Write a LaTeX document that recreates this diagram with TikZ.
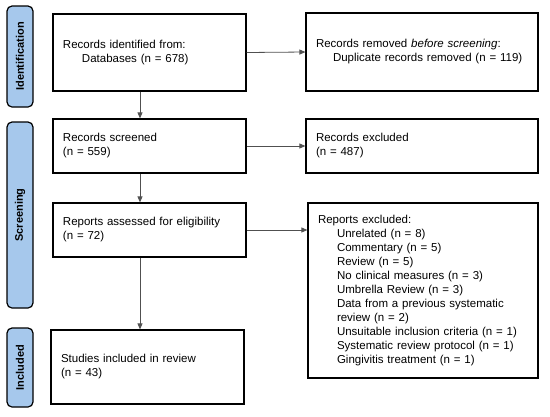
\documentclass[tikz,border=0pt]{standalone}
\usepackage{fontspec}
\setmainfont{Liberation Sans}
\usetikzlibrary{arrows.meta,calc}
\definecolor{sideblue}{HTML}{A6C8EC}
\definecolor{arrowgray}{HTML}{505050}
\begin{document}
\begin{tikzpicture}[x=1pt,y=-1pt,
  every node/.style={font=\fontsize{11.5}{14}\selectfont},
  flowbox/.style={draw=black,line width=1.2pt,inner xsep=10pt,inner ysep=0pt,align=left,anchor=center},
  sidebox/.style={draw=black,line width=1.2pt,fill=sideblue,rounded corners=5pt,rotate=90,
    minimum height=26pt,inner sep=0pt,font=\fontsize{11}{12}\selectfont\bfseries,anchor=center},
  conn/.style={draw=arrowgray,line width=0.8pt,-{Triangle[length=6pt,width=5pt]}}]
\useasboundingbox (0,0) rectangle (550,416);
% side labels
\node[sidebox,minimum width=101pt] (sid) at (20,56.5) {Identification};
\node[sidebox,minimum width=186pt] (sscr) at (20,215) {Screening};
\node[sidebox,minimum width=79pt] (sinc) at (20,367.5) {Included};
% boxes
\node[flowbox,text width=173pt,minimum height=77pt] (a) at (149.5,52.5)
  {Records identified from:\\\hspace*{19pt}Databases (n = 678)};
\node[flowbox,text width=212pt,minimum height=78pt] (b) at (422,52)
  {Records removed \textit{before screening}:\\\hspace*{17pt}Duplicate records removed (n = 119)};
\node[flowbox,text width=173pt,minimum height=54pt] (c) at (149.5,146)
  {Records screened\\(n = 559)};
\node[flowbox,text width=212pt,minimum height=54pt] (d) at (422,146)
  {Records excluded\\(n = 487)};
\node[flowbox,text width=173pt,minimum height=54pt] (e) at (149.5,230)
  {Reports assessed for eligibility\\(n = 72)};
\node[flowbox,text width=210pt,minimum height=175pt] (f) at (423,290.5)
  {Reports excluded:\\
   \hspace*{19pt}Unrelated (n = 8)\\
   \hspace*{19pt}Commentary (n = 5)\\
   \hspace*{19pt}Review (n = 5)\\
   \hspace*{19pt}No clinical measures (n = 3)\\
   \hspace*{19pt}Umbrella Review (n = 3)\\
   \hspace*{19pt}Data from a previous systematic\\
   \hspace*{19pt}review (n = 2)\\
   \hspace*{19pt}Unsuitable inclusion criteria (n = 1)\\
   \hspace*{19pt}Systematic review protocol (n = 1)\\
   \hspace*{19pt}Gingivitis treatment (n = 1)};
\node[flowbox,text width=173pt,minimum height=74pt] (g) at (147.5,367)
  {Studies included in review\\(n = 43)};
% connectors
\coordinate (col) at (140,0);
\draw[conn] (a.east) -- (b.west);
\draw[conn] (c.east) -- (d.west);
\draw[conn] (e.east) -- (e.east -| f.west);
\draw[conn] (a.south -| col) -- (c.north -| col);
\draw[conn] (c.south -| col) -- (e.north -| col);
\draw[conn] (e.south -| col) -- (g.north -| col);
\end{tikzpicture}
\end{document}
